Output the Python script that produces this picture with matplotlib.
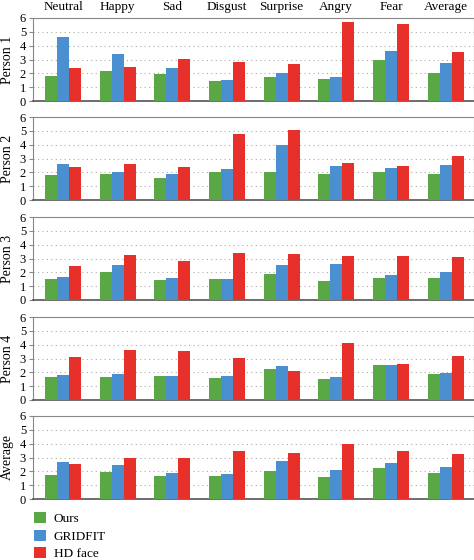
import matplotlib.pyplot as plt
import numpy as np
from matplotlib.patches import Patch

plt.rcParams['font.family'] = ['Liberation Serif', 'DejaVu Serif']

emotions = ['Neutral', 'Happy', 'Sad', 'Disgust', 'Surprise', 'Angry', 'Fear', 'Average']
panels = ['Person 1', 'Person 2', 'Person 3', 'Person 4', 'Average']
methods = ['Ours', 'GRIDFIT', 'HD face']
colors = ['#5aa845', '#4a8fd0', '#e8302a']

ours = [
    [1.8, 2.2, 1.95, 1.45, 1.7, 1.6, 2.95, 2.0],
    [1.8, 1.9, 1.6, 2.05, 2.05, 1.9, 2.05, 1.9],
    [1.55, 2.0, 1.45, 1.5, 1.85, 1.35, 1.6, 1.6],
    [1.65, 1.65, 1.75, 1.6, 2.25, 1.55, 2.5, 1.85],
    [1.7, 1.95, 1.65, 1.65, 2.0, 1.6, 2.25, 1.85],
]
gridfit = [
    [4.65, 3.4, 2.4, 1.5, 2.0, 1.75, 3.65, 2.75],
    [2.6, 2.0, 1.85, 2.25, 3.95, 2.45, 2.3, 2.5],
    [1.65, 2.55, 1.6, 1.55, 2.55, 2.6, 1.8, 2.05],
    [1.8, 1.85, 1.75, 1.75, 2.45, 1.65, 2.55, 1.95],
    [2.7, 2.45, 1.9, 1.8, 2.75, 2.1, 2.6, 2.3],
]
hdface = [
    [2.35, 2.45, 3.05, 2.85, 2.7, 5.7, 5.6, 3.55],
    [2.35, 2.6, 2.35, 4.8, 5.05, 2.7, 2.45, 3.2],
    [2.45, 3.25, 2.8, 3.4, 3.35, 3.2, 3.15, 3.1],
    [3.1, 3.6, 3.55, 3.05, 2.1, 4.15, 2.6, 3.2],
    [2.55, 3.0, 2.95, 3.5, 3.3, 3.95, 3.45, 3.25],
]

fig = plt.figure(figsize=(4.74, 5.60), dpi=100)
x = np.arange(len(emotions))
w = 0.22
tops = [18, 117, 217, 317, 416]
h = 83

for i, name in enumerate(panels):
    ax = fig.add_axes([33 / 474, 1 - (tops[i] + h) / 560, 1 - 33 / 474, h / 560])
    for j, data in enumerate([ours, gridfit, hdface]):
        ax.bar(x + (j - 1) * w, data[i], w, color=colors[j], zorder=3)
    ax.set_ylim(0, 6)
    ax.set_xlim(-0.55, 7.52)
    ax.set_yticks(range(7))
    ax.set_xticks([])
    ax.tick_params(axis='y', labelsize=9, length=3, pad=2, color='#888888')
    ax.grid(axis='y', linestyle=(0, (1, 3)), color='#aaaaaa', linewidth=0.8, zorder=0)
    for s in ['top', 'left', 'right']:
        ax.spines[s].set_color('#888888')
    ax.spines['bottom'].set_color('#555555')
    ax.spines['bottom'].set_linewidth(1.2)
    ax.set_ylabel(name, fontsize=10, labelpad=4)
    if i == 0:
        for k, e in enumerate(emotions):
            ax.text(x[k], 6.35, e, ha='center', va='bottom', fontsize=9.5)

handles = [Patch(facecolor=c, edgecolor='none') for c in colors]
fig.legend(handles, methods, loc='upper left', bbox_to_anchor=(0.06, 0.095),
           frameon=False, fontsize=9.5, handlelength=0.9, handleheight=0.9,
           handletextpad=0.6, labelspacing=0.35, borderaxespad=0)

fig.savefig('out.png', dpi=100)
